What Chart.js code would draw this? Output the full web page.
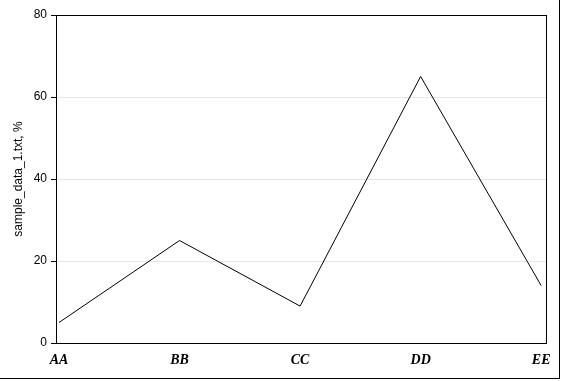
<!DOCTYPE html>
<html>
<head>
<meta charset="utf-8">
<script src="https://cdn.jsdelivr.net/npm/chart.js@4/dist/chart.umd.min.js"></script>
<style>
  html, body { margin: 0; padding: 0; background: #fff; }
  #wrap { width: 561px; height: 381px; position: relative; }
</style>
</head>
<body>
<div id="wrap"><canvas id="chart" width="561" height="381"></canvas></div>
<script>
// data
const categories = ["AA", "BB", "CC", "DD", "EE"];
const values = [5, 25, 9, 65, 14];
const yTicks = [0, 20, 40, 60, 80];
const yTitle = "sample_data_1.txt, %";

// plot frame + outer edge lines
const framePlugin = {
    id: "frame",
    afterDraw(chart) {
        const { ctx, chartArea: a } = chart;
        ctx.save();
        ctx.strokeStyle = "#000";
        ctx.lineWidth = 1;
        ctx.strokeRect(Math.round(a.left) + 0.5, Math.round(a.top) + 0.5,
            Math.round(a.right - a.left), Math.round(a.bottom - a.top));
        ctx.fillStyle = "#000";
        ctx.fillRect(559, 0, 1, 379);
        ctx.fillRect(0, 378, 560, 1);
        ctx.restore();
    }
};

new Chart(document.getElementById("chart"), {
    type: "line",
    data: {
        datasets: [{
            data: values.map((v, i) => ({ x: i, y: v })),
            borderColor: "#000",
            borderWidth: 1,
            pointRadius: 0,
            tension: 0
        }]
    },
    options: {
        responsive: false,
        animation: false,
        layout: { padding: { left: 0, top: 15, right: 15, bottom: 0 } },
        plugins: { legend: { display: false }, tooltip: { enabled: false } },
        scales: {
            x: {
                type: "linear",
                min: -0.025,
                max: 4.04,
                afterBuildTicks: s => { s.ticks = categories.map((c, i) => ({ value: i })); },
                afterFit: s => { s.height = 38; },
                grid: { display: false, drawTicks: false },
                border: { display: false },
                ticks: {
                    autoSkip: false,
                    maxRotation: 0,
                    padding: 9,
                    color: "#000",
                    font: { family: "'Liberation Serif', 'Times New Roman', serif", size: 14, style: "italic", weight: "bold" },
                    callback: v => categories[v]
                }
            },
            y: {
                min: 0,
                max: 80,
                afterBuildTicks: s => { s.ticks = yTicks.map(v => ({ value: v })); },
                afterFit: s => { s.width = 56; },
                grid: { color: "#e6e6e6", tickColor: "#000", tickLength: 5, lineWidth: 1 },
                border: { display: false },
                ticks: {
                    padding: 4,
                    color: "#000",
                    font: { family: "'Liberation Sans', Arial, sans-serif", size: 12 }
                },
                title: {
                    display: true,
                    text: yTitle,
                    color: "#000",
                    padding: { top: 11, bottom: 0 },
                    font: { family: "'Liberation Sans', Arial, sans-serif", size: 12 }
                }
            }
        }
    },
    plugins: [framePlugin]
});
</script>
</body>
</html>
